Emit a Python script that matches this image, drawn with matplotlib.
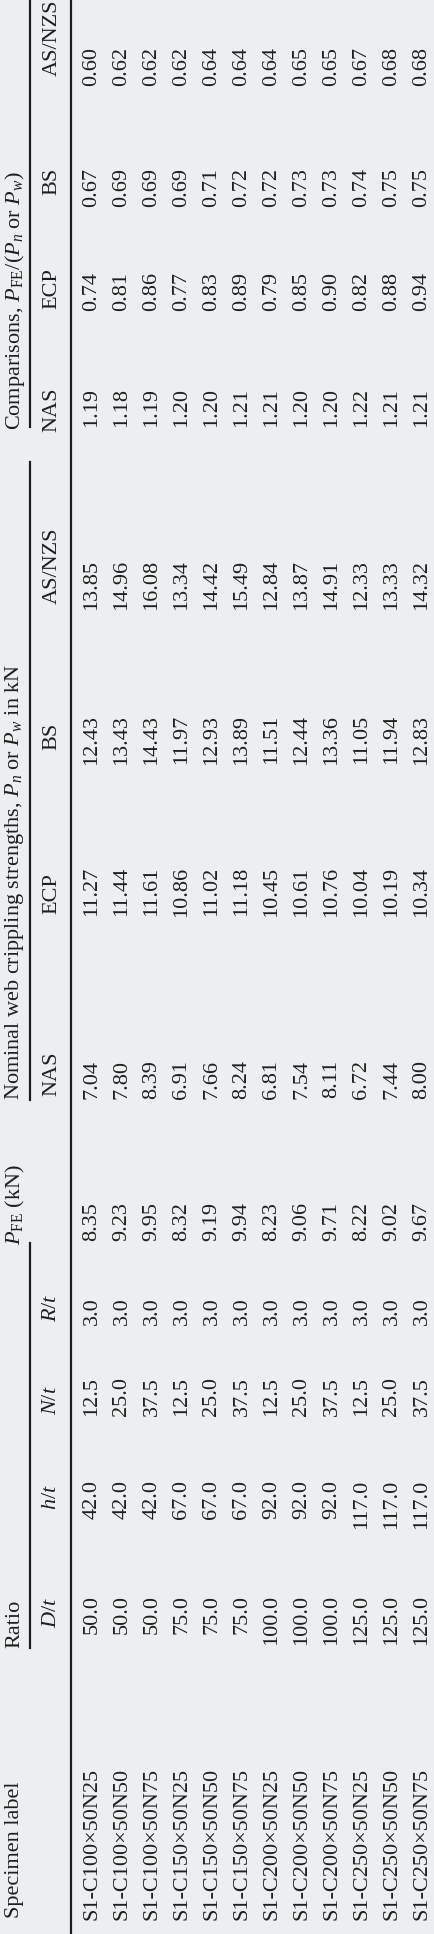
import matplotlib
matplotlib.use("Agg")
import matplotlib.pyplot as plt

labels = ["S1-C100×50N25","S1-C100×50N50","S1-C100×50N75","S1-C150×50N25","S1-C150×50N50","S1-C150×50N75",
          "S1-C200×50N25","S1-C200×50N50","S1-C200×50N75","S1-C250×50N25","S1-C250×50N50","S1-C250×50N75"]
Dt = ["50.0","50.0","50.0","75.0","75.0","75.0","100.0","100.0","100.0","125.0","125.0","125.0"]
ht = ["42.0","42.0","42.0","67.0","67.0","67.0","92.0","92.0","92.0","117.0","117.0","117.0"]
Nt = ["12.5","25.0","37.5"]*4
Rt = ["3.0"]*12
PFE = ["8.35","9.23","9.95","8.32","9.19","9.94","8.23","9.06","9.71","8.22","9.02","9.67"]
NAS = ["7.04","7.80","8.39","6.91","7.66","8.24","6.81","7.54","8.11","6.72","7.44","8.00"]
ECP = ["11.27","11.44","11.61","10.86","11.02","11.18","10.45","10.61","10.76","10.04","10.19","10.34"]
BS = ["12.43","13.43","14.43","11.97","12.93","13.89","11.51","12.44","13.36","11.05","11.94","12.83"]
ASNZS = ["13.85","14.96","16.08","13.34","14.42","15.49","12.84","13.87","14.91","12.33","13.33","14.32"]
cNAS = ["1.19","1.18","1.19","1.20","1.20","1.21","1.21","1.20","1.20","1.22","1.21","1.21"]
cECP = ["0.74","0.81","0.86","0.77","0.83","0.89","0.79","0.85","0.90","0.82","0.88","0.94"]
cBS = ["0.67","0.69","0.69","0.69","0.71","0.72","0.72","0.73","0.73","0.74","0.75","0.75"]
cAS = ["0.60","0.62","0.62","0.62","0.64","0.64","0.64","0.65","0.65","0.67","0.68","0.68"]

plt.rcParams['font.family'] = ['Liberation Serif', 'DejaVu Serif']
plt.rcParams['mathtext.fontset'] = 'custom'
plt.rcParams['mathtext.rm'] = 'Liberation Serif'
plt.rcParams['mathtext.it'] = 'Liberation Serif:italic'

bg = '#eceff0'
fc = '#1e1e1e'
fig = plt.figure(figsize=(4.35, 19.34), dpi=100, facecolor=bg)
ax = fig.add_axes([0, 0, 1, 1])
ax.set_facecolor(bg)
ax.set_xlim(0, 435)
ax.set_ylim(1934, 0)
ax.axis('off')

fs = 16
def t(x, y, s, ha='right', size=fs):
    ax.text(x, y, s, rotation=90, rotation_mode='anchor', ha=ha, va='center',
            fontsize=size, color=fc)

cols = [
    (Dt, 1595, r'$D/t$', 1597),
    (ht, 1480, r'$h/t$', 1484),
    (Nt, 1377, r'$N/t$', 1385),
    (Rt, 1297, r'$R/t$', 1293),
    (PFE, 1202, None, None),
    (NAS, 1060, 'NAS', 1052),
    (ECP, 867, 'ECP', 873),
    (BS, 715, 'BS', 723),
    (ASNZS, 560, 'AS/NZS', 528),
    (cNAS, 388, 'NAS', 388),
    (cECP, 272, 'ECP', 268),
    (cBS, 168, 'BS', 168),
    (cAS, 47, 'AS/NZS', 0),
]
row_x0, row_dx = 92, 30
hdr_x, sub_x = 15, 52
for vals, y, h, hy in cols:
    for i, v in enumerate(vals):
        t(row_x0 + i * row_dx, y, v)
    if h is not None:
        t(sub_x, hy, h)
for i, v in enumerate(labels):
    t(row_x0 + i * row_dx, 1768, v)

t(hdr_x, 1782, 'Specimen label')
t(hdr_x, 1648, 'Ratio', ha='left')
t(hdr_x, 1245, r'$P_{\mathrm{FE}}$ (kN)', ha='left')
t(hdr_x, 1100, r'Nominal web crippling strengths, $P_n$ or $P_w$ in kN', ha='left')
t(hdr_x, 430, r'Comparisons, $P_{\mathrm{FE}}/(P_n$ or $P_w)$', ha='left')

lw = 1.6
ax.plot([71, 71], [0, 1934], color=fc, lw=lw)
for y0, y1 in [(1243, 1648), (462, 1100), (0, 427)]:
    ax.plot([30, 30], [y0, y1], color=fc, lw=lw)

fig.savefig('out.png', dpi=100, facecolor=bg)
